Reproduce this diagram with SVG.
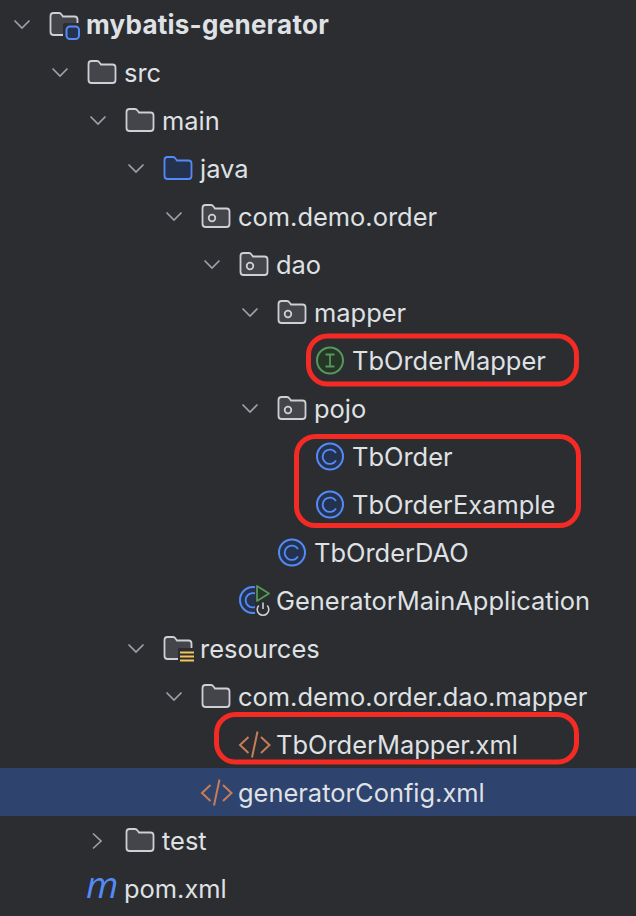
<svg xmlns="http://www.w3.org/2000/svg" xmlns:xlink="http://www.w3.org/1999/xlink" width="636" height="916" viewBox="0 0 636 916">
<style>
text{font-family:"Inter","Noto Sans",sans-serif;font-size:25.45px;fill:#dfe1e5}
.b{font-weight:700;font-size:26px;letter-spacing:.25px}
.chev{fill:none;stroke:#9da0a8;stroke-width:1.7}
.folder{fill:#43454a;stroke:#ced0d6;stroke-width:1.8}
.hl{fill:none;stroke:#f42a25;stroke-width:5}
.cb{fill:#25324d;stroke:#548af7;stroke-width:2}
.cg{fill:#253627;stroke:#57965c;stroke-width:2}
.gl{fill:none;stroke:#548af7;stroke-width:1.8}
.xml{fill:none;stroke:#c77d55;stroke-width:2}
</style>
<defs>
<path id="f" class="folder" d="M0-9Q0-12 3-12H8.500Q10-12 11-10.500L12.500-8.500H24Q27-8.500 27-5.500V7Q27 10 24 10H3Q0 10 0 7Z"/>
<g id="p"><use xlink:href="#f"/><circle cx="9.500" cy="1" r="3.300" fill="none" stroke="#ced0d6" stroke-width="1.800"/></g>
<path id="d" class="chev" d="M0-4L7.500 3.500 15-4"/>
<g id="c"><circle r="13" class="cb"/><path class="gl" d="M6-3.500A7.200 7.200 0 1 0 6 4"/></g>
<path id="x" class="xml" d="M10.500-7L2 1 10.500 9M14 13.500L19.500-12.500M23-7L31.500 1 23 9"/>
</defs>
<rect width="636" height="916" fill="#2b2d30"/>
<rect y="768" width="636" height="48" fill="#2e436e"/>
<g id="connectors">
<use xlink:href="#d" x="14.500" y="24.500"/>
<use xlink:href="#d" x="52.500" y="72.500"/>
<use xlink:href="#d" x="90.500" y="120.500"/>
<use xlink:href="#d" x="128.500" y="168.500"/>
<use xlink:href="#d" x="166.500" y="216.500"/>
<use xlink:href="#d" x="204.500" y="264.500"/>
<use xlink:href="#d" x="242.500" y="312.500"/>
<use xlink:href="#d" x="242.500" y="408.500"/>
<use xlink:href="#d" x="128.500" y="648.500"/>
<use xlink:href="#d" x="166.500" y="696.500"/>
<path class="chev" d="M93 833.500L101 841 93 848.500"/>
</g>
<g id="n-root"><use xlink:href="#f" x="50.500" y="25"/><rect x="63" y="23" width="20" height="19" rx="3" fill="#2b2d30"/><rect x="66.500" y="26.500" width="12.500" height="12.500" rx="3.500" class="cb"/><text class="b" x="86" y="34">mybatis-generator</text></g>
<g id="n-src"><use xlink:href="#f" x="88.500" y="73"/><text x="124" y="82">src</text></g>
<g id="n-main"><use xlink:href="#f" x="126.500" y="121"/><text x="162" y="130">main</text></g>
<g id="n-java"><path transform="translate(164.500 169)" d="M0-9Q0-12 3-12H8.500Q10-12 11-10.500L12.500-8.500H24Q27-8.500 27-5.500V7Q27 10 24 10H3Q0 10 0 7Z" fill="#25324d" stroke="#548af7" stroke-width="1.800"/><text x="200" y="178">java</text></g>
<g id="n-com"><use xlink:href="#p" x="202.500" y="217"/><text x="238" y="226">com.demo.order</text></g>
<g id="n-dao"><use xlink:href="#p" x="240.500" y="265"/><text x="276" y="274">dao</text></g>
<g id="n-mapper"><use xlink:href="#p" x="278.500" y="313"/><text x="314" y="322">mapper</text></g>
<g id="n-tbordermapper"><rect class="hl" x="308.500" y="336" width="268" height="48" rx="19"/><circle cx="330" cy="360.500" r="13" class="cg"/><path d="M325.500 354.500H334.500M330 354.500V366.500M325.500 366.500H334.500" fill="none" stroke="#57965c" stroke-width="1.800"/><text x="352" y="370">TbOrderMapper</text></g>
<g id="n-pojo"><use xlink:href="#p" x="278.500" y="409"/><text x="314" y="418">pojo</text></g>
<g id="n-pojo-group"><rect class="hl" x="296.500" y="436.500" width="282" height="89" rx="19"/></g>
<g id="n-tborder"><use xlink:href="#c" x="330" y="456.500"/><text x="352" y="466">TbOrder</text></g>
<g id="n-tborderexample"><use xlink:href="#c" x="330" y="504.500"/><text x="352" y="514">TbOrderExample</text></g>
<g id="n-tborderdao"><use xlink:href="#c" x="292" y="552.500"/><text x="314" y="562">TbOrderDAO</text></g>
<g id="n-app"><use xlink:href="#c" x="253" y="600"/><path d="M255 583H272V617H255Z" fill="#2b2d30"/><path d="M257 586L269 593.500 257 601Z" fill="#253627" stroke="#57965c" stroke-width="1.800" stroke-linejoin="round"/><circle cx="263" cy="609" r="7.500" fill="#2b2d30" stroke="none"/><path d="M258.800 605.500A5.800 5.800 0 1 0 267.200 605.500M263 602.500V609" fill="none" stroke="#ced0d6" stroke-width="1.600"/><text x="276" y="610">GeneratorMainApplication</text></g>
<g id="n-resources"><use xlink:href="#f" x="164.500" y="649"/><rect x="178" y="648" width="18" height="17" rx="2" fill="#2b2d30"/><path d="M180 652.500H194M180 656.500H194M180 660.500H194" stroke="#f2c55c" stroke-width="2"/><text x="200" y="658">resources</text></g>
<g id="n-res-pkg"><use xlink:href="#f" x="202.500" y="697"/><text x="238" y="706">com.demo.order.dao.mapper</text></g>
<g id="n-xml"><rect class="hl" x="216.500" y="714.500" width="360" height="47.500" rx="19"/><use xlink:href="#x" x="238" y="744"/><text x="276" y="754">TbOrderMapper.xml</text></g>
<g id="n-config"><use xlink:href="#x" x="200" y="792"/><text x="238" y="802">generatorConfig.xml</text></g>
<g id="n-test"><use xlink:href="#f" x="126.500" y="841"/><text x="162" y="850">test</text></g>
<g id="n-pom"><text x="86" y="898" style="font-family:'Open Sans',sans-serif;font-style:italic;font-size:37px;fill:#548af7">m</text><text x="124" y="898">pom.xml</text></g>
</svg>
